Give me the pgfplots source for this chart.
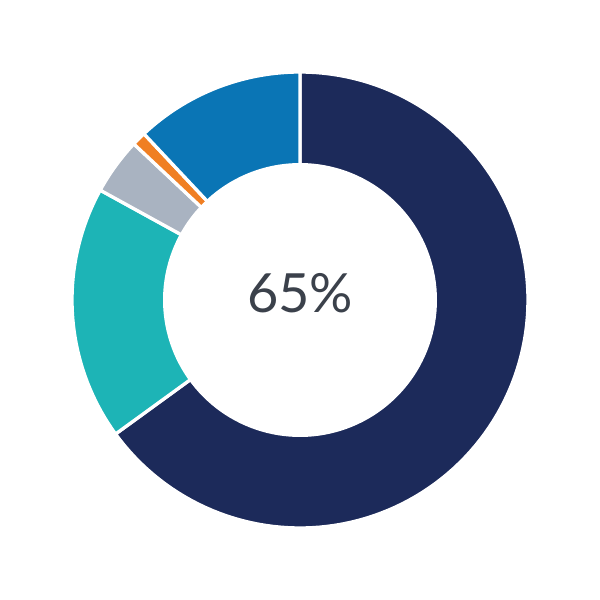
\documentclass[border=0pt]{standalone}
\usepackage{pgfplots}
\pgfplotsset{compat=1.18}
\usepackage{fontspec}
\setmainfont{Lato}
\definecolor{cnavy}{HTML}{1C2A5A}
\definecolor{cteal}{HTML}{1DB4B6}
\definecolor{cgray}{HTML}{A9B3C1}
\definecolor{corange}{HTML}{F07F23}
\definecolor{cblue}{HTML}{0A75B5}
\definecolor{ctext}{HTML}{3B414B}
% shares in percent (clockwise from 12 o'clock)
\def\vA{65}\def\vB{18}\def\vC{4}\def\vD{1}\def\vE{12}
\pgfmathsetmacro{\aA}{90}
\pgfmathsetmacro{\aB}{\aA-3.6*\vA}
\pgfmathsetmacro{\aC}{\aB-3.6*\vB}
\pgfmathsetmacro{\aD}{\aC-3.6*\vC}
\pgfmathsetmacro{\aE}{\aD-3.6*\vD}
\pgfmathsetmacro{\aF}{\aE-3.6*\vE}
\begin{document}
\begin{tikzpicture}
\begin{axis}[width=8cm,height=8cm,scale only axis,hide axis,
  xmin=0,xmax=600,ymin=0,ymax=600,clip=false]
\addplot[draw=none] coordinates {(0,0) (600,600)};
\addplot[fill=cnavy,draw=white,line width=1.25pt,domain=\aB:\aA,samples=120,variable=\t]
  ({300+228*cos(\t)},{300+228*sin(\t)}) -- (axis cs:300,300) -- cycle;
\addplot[fill=cteal,draw=white,line width=1.25pt,domain=\aC:\aB,samples=40,variable=\t]
  ({300+228*cos(\t)},{300+228*sin(\t)}) -- (axis cs:300,300) -- cycle;
\addplot[fill=cgray,draw=white,line width=1.25pt,domain=\aD:\aC,samples=12,variable=\t]
  ({300+228*cos(\t)},{300+228*sin(\t)}) -- (axis cs:300,300) -- cycle;
\addplot[fill=corange,draw=white,line width=1.25pt,domain=\aE:\aD,samples=4,variable=\t]
  ({300+228*cos(\t)},{300+228*sin(\t)}) -- (axis cs:300,300) -- cycle;
\addplot[fill=cblue,draw=white,line width=1.25pt,domain=\aF:\aE,samples=30,variable=\t]
  ({300+228*cos(\t)},{300+228*sin(\t)}) -- (axis cs:300,300) -- cycle;
\addplot[fill=white,draw=none,domain=0:360,samples=150,variable=\t]
  ({300+137*cos(\t)},{300+137*sin(\t)}) -- cycle;
\node[text=ctext,font=\fontsize{20.5}{24}\selectfont] at (axis cs:300,307) {65\%};
\end{axis}
\end{tikzpicture}
\end{document}
